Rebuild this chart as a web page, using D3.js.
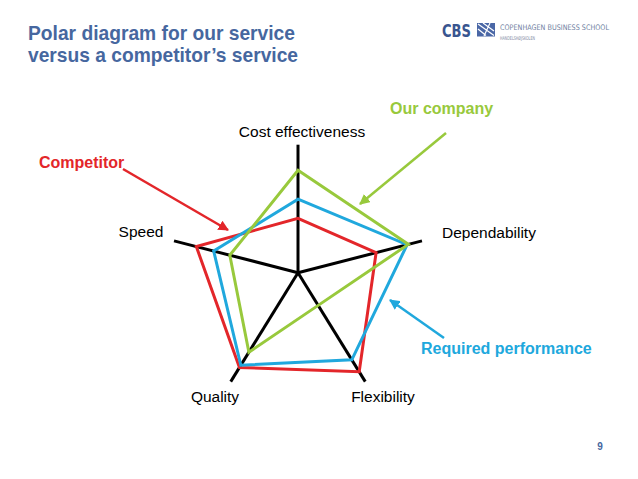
<!DOCTYPE html>
<html>
<head>
<meta charset="utf-8">
<script src="https://cdn.jsdelivr.net/npm/d3@7"></script>
<style>
  html, body { margin: 0; padding: 0; background: #fff; }
  svg { display: block; font-family: "Liberation Sans", Arial, sans-serif; }
</style>
</head>
<body>
<div id="chart"></div>
<script>
// Polar (radar) diagram data, scale 0-10 along each axis
const axes = ["Cost effectiveness", "Dependability", "Flexibility", "Quality", "Speed"];
const competitor = [4.25, 6.3, 9.1, 8.7, 8.2];
const required = [5.75, 8.8, 8.0, 8.5, 6.8];
const ourCompany = [8.0, 8.9, 3.0, 7.3, 5.5];
const seriesNames = ["Competitor", "Required performance", "Our company"];
const titleLines = ["Polar diagram for our service", "versus a competitor\u2019s service"];

const width = 638, height = 479;
const cx = 298, cy = 272.7;
// the pentagon in the slide is not quite regular
const axisAngles = [0, 75.6, 148.3, 211.7, 284.4];
const colors = { red: "#e3262a", blue: "#20a8dd", green: "#98c93c", title: "#46679f" };

const svg = d3.select("#chart").append("svg")
  .attr("width", width).attr("height", height);

const defs = svg.append("defs");
[["red", colors.red], ["blue", colors.blue], ["green", colors.green]].forEach(([k, c]) => {
  defs.append("marker")
    .attr("id", "arr-" + k)
    .attr("viewBox", "0 0 10 10")
    .attr("refX", 9).attr("refY", 5)
    .attr("markerWidth", 4.2).attr("markerHeight", 4.2)
    .attr("markerUnits", "strokeWidth")
    .attr("orient", "auto")
    .append("path").attr("d", "M0,0 L10,5 L0,10 z").attr("fill", c);
});

// title
const titleWidths = [267, 270];
svg.append("g").selectAll("text")
  .data(titleLines).enter().append("text")
  .attr("x", 28).attr("y", (d, i) => 40 + i * 22)
  .attr("font-size", 20.5).attr("font-weight", "bold")
  .attr("textLength", (d, i) => titleWidths[i]).attr("lengthAdjust", "spacingAndGlyphs")
  .attr("fill", colors.title)
  .text(d => d);

// CBS logo
const logo = svg.append("g");
logo.append("text").attr("x", 442).attr("y", 36.5)
  .attr("font-family", "'DejaVu Sans Condensed', 'DejaVu Sans', sans-serif")
  .attr("font-weight", "bold").attr("font-size", 18)
  .attr("textLength", 29).attr("lengthAdjust", "spacingAndGlyphs")
  .attr("fill", "#39558f").text("CBS");
logo.append("rect").attr("x", 477).attr("y", 23).attr("width", 18).attr("height", 13.5)
  .attr("fill", "#4a67a6");
logo.append("path")
  .attr("d", "M478,24 L494,35.5 M483,23 L494,31 M478,29 L486,35.5 M490,23 L484,36")
  .attr("stroke", "#fff").attr("stroke-width", 1.2);
logo.append("text").attr("x", 500).attr("y", 29.5)
  .attr("font-family", "'DejaVu Sans Condensed', 'DejaVu Sans', sans-serif")
  .attr("font-size", 7.6)
  .attr("textLength", 109).attr("lengthAdjust", "spacingAndGlyphs")
  .attr("fill", "#6f7f9f").text("COPENHAGEN BUSINESS SCHOOL");
logo.append("text").attr("x", 500).attr("y", 40)
  .attr("font-family", "'DejaVu Sans Condensed', 'DejaVu Sans', sans-serif")
  .attr("font-size", 5)
  .attr("textLength", 35).attr("lengthAdjust", "spacingAndGlyphs")
  .attr("fill", "#7f8aa3").text("HANDELSHØJSKOLEN");

// page number
svg.append("text").attr("x", 600).attr("y", 450)
  .attr("text-anchor", "middle").attr("font-size", 10).attr("font-weight", "bold")
  .attr("fill", colors.title).text("9");

// radar scales
const r = d3.scaleLinear().domain([0, 10]).range([0, 128]);
const angle = d3.scaleOrdinal().domain(axes).range(axisAngles.map(a => a * Math.PI / 180));
const pt = (ax, v) => {
  const a = angle(ax);
  return [cx + r(v) * Math.sin(a), cy - r(v) * Math.cos(a)];
};

const g = svg.append("g");

// axes
g.selectAll(".axis").data(axes).enter().append("line")
  .attr("class", "axis")
  .attr("x1", cx).attr("y1", cy)
  .attr("x2", d => pt(d, 10)[0]).attr("y2", d => pt(d, 10)[1])
  .attr("stroke", "#000").attr("stroke-width", 3);

// series polygons
const series = [
  { name: seriesNames[0], values: competitor, color: colors.red },
  { name: seriesNames[1], values: required, color: colors.blue },
  { name: seriesNames[2], values: ourCompany, color: colors.green }
];
const line = d3.line();
g.selectAll(".series").data(series).enter().append("path")
  .attr("class", "series")
  .attr("d", s => line(axes.map((ax, i) => pt(ax, s.values[i]))) + "Z")
  .attr("fill", "none")
  .attr("stroke", s => s.color)
  .attr("stroke-width", 3)
  .attr("stroke-linejoin", "miter");

// axis labels
const labelPos = {
  "Cost effectiveness": { x: 302, y: 137, anchor: "middle" },
  "Dependability": { x: 442, y: 238, anchor: "start" },
  "Flexibility": { x: 383, y: 402, anchor: "middle" },
  "Quality": { x: 215, y: 402, anchor: "middle" },
  "Speed": { x: 141, y: 237, anchor: "middle" }
};
svg.append("g").selectAll("text").data(axes).enter().append("text")
  .attr("x", d => labelPos[d].x).attr("y", d => labelPos[d].y)
  .attr("text-anchor", d => labelPos[d].anchor)
  .attr("font-size", 15.5).attr("fill", "#000")
  .text(d => d);

// callouts
const callouts = [
  { name: seriesNames[0], color: colors.red, key: "red", tx: 39, ty: 168, from: [123, 169], to: [228, 230] },
  { name: seriesNames[2], color: colors.green, key: "green", tx: 390, ty: 114, from: [446, 133], to: [360, 204] },
  { name: seriesNames[1], color: colors.blue, key: "blue", tx: 421, ty: 354, from: [444, 338], to: [390, 300] }
];
const co = svg.append("g");
co.selectAll("text").data(callouts).enter().append("text")
  .attr("x", d => d.tx).attr("y", d => d.ty)
  .attr("font-size", 16).attr("font-weight", "bold")
  .attr("fill", d => d.color).text(d => d.name);
co.selectAll("line").data(callouts).enter().append("line")
  .attr("x1", d => d.from[0]).attr("y1", d => d.from[1])
  .attr("x2", d => d.to[0]).attr("y2", d => d.to[1])
  .attr("stroke", d => d.color).attr("stroke-width", 2.5)
  .attr("marker-end", d => "url(#arr-" + d.key + ")");
</script>
</body>
</html>
